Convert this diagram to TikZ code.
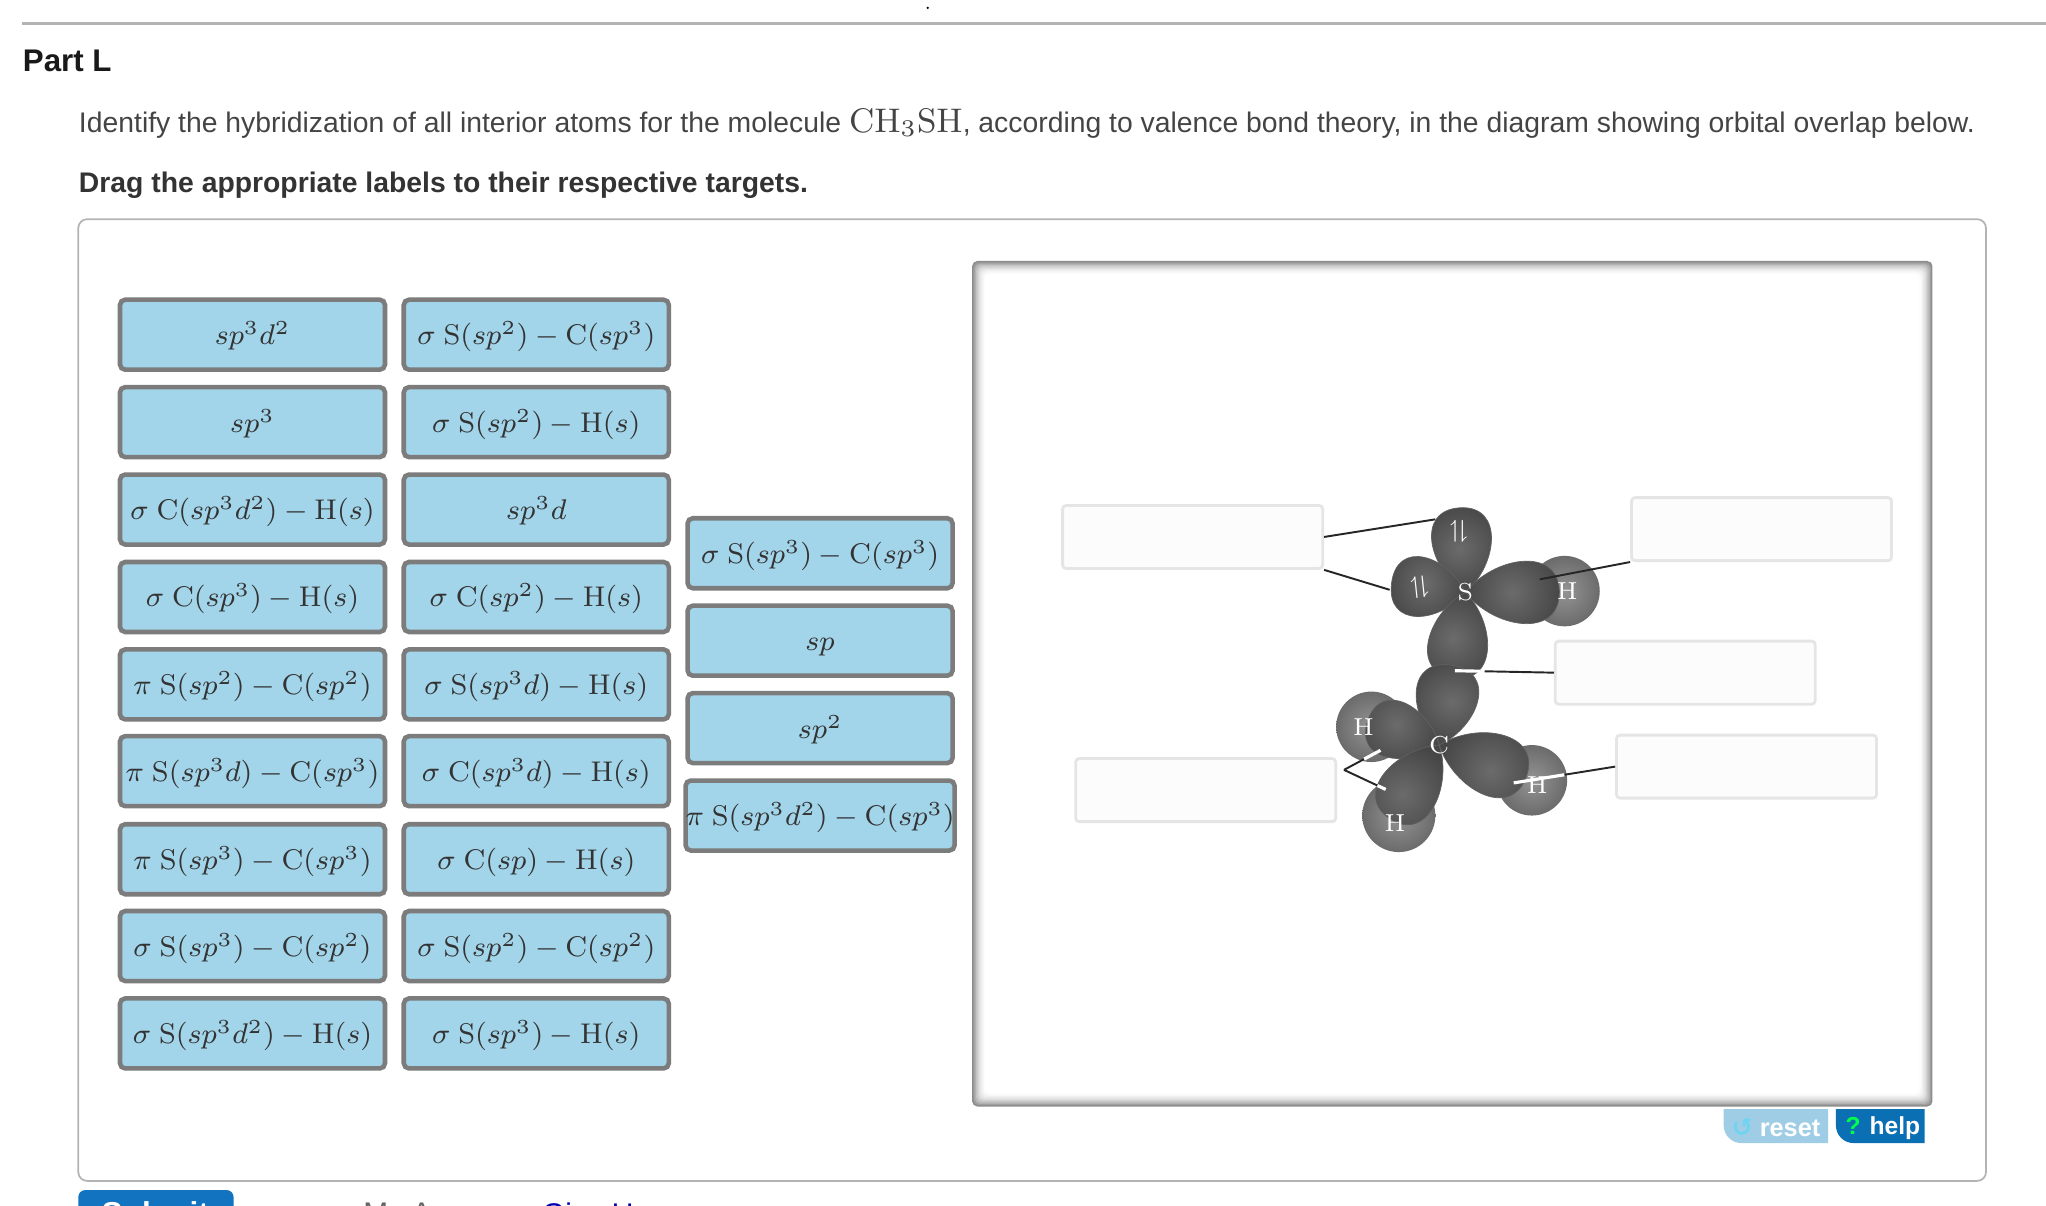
\documentclass[tikz,border=0pt]{standalone}
\usepackage{fix-cm}
\usepackage{amssymb}
\usepackage[no-math]{fontspec}
\setmainfont{Liberation Sans}
\newfontfamily\symfont{DejaVu Sans}
\newfontfamily\atomfont{Latin Modern Roman}
\usetikzlibrary{calc}
\definecolor{labelblue}{HTML}{A3D5EA}
\definecolor{labeledge}{HTML}{7C7C7C}
\definecolor{framegray}{HTML}{B4B4B4}
\definecolor{resetblue}{HTML}{A0CDE6}
\definecolor{helpblue}{HTML}{0A6FB3}
\definecolor{submitblue}{HTML}{1273C0}
\definecolor{bodygray}{HTML}{444444}
\tikzset{
	labelbox/.style = {draw=labeledge, line width=1.3pt, fill=labelblue, rounded corners=1.5pt, minimum width=2.65cm, minimum height=0.7cm, inner sep=0pt, text=black!80, text height=7.5pt, text depth=1.8pt, font=\fontsize{8.1}{10}\selectfont},
	targetbox/.style = {draw=black!10, line width=0.8pt, fill=black!1, rounded corners=1pt, minimum width=2.6cm, minimum height=0.63cm, inner sep=0pt},
	orbital/.style = {inner color=black!58, outer color=black!72, draw=black!62, line width=0.2pt},
	hball/.style = {inner color=black!42, outer color=black!58},
	atomname/.style = {text=white, font=\atomfont\scriptsize, inner sep=0pt},
	leader/.style = {line width=0.55pt, black!85},
	leaderglow/.style = {line width=0.9pt, white}
}
% one lobe: start point, angle, length, half width
\newcommand{\lobe}[4]{
	\shade[orbital, shift={#1}, rotate=#2] (0,0) .. controls (0.3*#3,1.15*#4) and (#3,1.5*#4) .. (#3,0) .. controls (#3,-1.5*#4) and (0.3*#3,-1.15*#4) .. (0,0);
}
\begin{document}
\begin{tikzpicture}[x=0.01305cm, y=-0.01305cm]
	\useasboundingbox (0,0) rectangle (1568,924);
	\clip (0,0) rectangle (1568,924);

	% header
	\draw[framegray, line width=0.8pt] (17,18) -- (1568,18);
	\fill[black] (711,6) circle (1);
	\node[anchor=west, inner sep=0pt, font=\bfseries\fontsize{8.9}{11}\selectfont, text=black!90] (part) at (17,47) {Part L};
	\node[anchor=west, inner sep=0pt, font=\fontsize{8.06}{10}\selectfont, text=bodygray] (task) at (60,95) {Identify the hybridization of all interior atoms for the molecule {\fontsize{9.7}{11}\selectfont$\mathrm{CH_3SH}$}, according to valence bond theory, in the diagram showing orbital overlap below.};
	\node[anchor=west, inner sep=0pt, font=\bfseries\fontsize{8.06}{10}\selectfont, text=black!80] (drag) at (60,142) {Drag the appropriate labels to their respective targets.};

	% outer frame and picture panel
	\draw[framegray, line width=0.5pt, rounded corners=2.5pt, fill=white] (60,168) rectangle (1522,905);
	\foreach \i/\c in {0/45,1/38,2/30,3/24,4/18,5/13,6/9,7/6,8/3,9/1,10/0}
		\fill[black!\c, rounded corners=1.5pt] (745+\i,200+\i) rectangle (1481-\i,848-\i);

	% labels
	\foreach \name/\y/\txt in {
		aa/256.5/$sp^3d^2$,
		ab/323.5/$sp^3$,
		ac/390.5/$\sigma\ \mathrm{C}(sp^3d^2)-\mathrm{H}(s)$,
		ad/457.5/$\sigma\ \mathrm{C}(sp^3)-\mathrm{H}(s)$,
		ae/524.5/$\pi\ \mathrm{S}(sp^2)-\mathrm{C}(sp^2)$,
		af/591/$\pi\ \mathrm{S}(sp^3d)-\mathrm{C}(sp^3)$,
		ag/658.5/$\pi\ \mathrm{S}(sp^3)-\mathrm{C}(sp^3)$,
		ah/725/$\sigma\ \mathrm{S}(sp^3)-\mathrm{C}(sp^2)$,
		ai/792/$\sigma\ \mathrm{S}(sp^3d^2)-\mathrm{H}(s)$}
		\node[labelbox] (\name) at (193.5,\y) {\txt};
	\foreach \name/\y/\txt in {
		ba/256.5/$\sigma\ \mathrm{S}(sp^2)-\mathrm{C}(sp^3)$,
		bb/323.5/$\sigma\ \mathrm{S}(sp^2)-\mathrm{H}(s)$,
		bc/390.5/$sp^3d$,
		bd/457.5/$\sigma\ \mathrm{C}(sp^2)-\mathrm{H}(s)$,
		be/524.5/$\sigma\ \mathrm{S}(sp^3d)-\mathrm{H}(s)$,
		bf/591/$\sigma\ \mathrm{C}(sp^3d)-\mathrm{H}(s)$,
		bg/658.5/$\sigma\ \mathrm{C}(sp)-\mathrm{H}(s)$,
		bh/725/$\sigma\ \mathrm{S}(sp^2)-\mathrm{C}(sp^2)$,
		bi/792/$\sigma\ \mathrm{S}(sp^3)-\mathrm{H}(s)$}
		\node[labelbox] (\name) at (411,\y) {\txt};
	\foreach \name/\y/\txt in {
		ca/424/$\sigma\ \mathrm{S}(sp^3)-\mathrm{C}(sp^3)$,
		cb/491/$sp$,
		cc/558/$sp^2$,
		cd/625/$\pi\ \mathrm{S}(sp^3d^2)-\mathrm{C}(sp^3)$}
		\node[labelbox] (\name) at (628.5,\y) {\txt};

	% molecule
	\coordinate (S) at (1123,454);
	\coordinate (C) at (1103,571);
	\shade[hball] (1199,453) circle (27);
	\shade[hball] (1051,557) circle (27);
	\shade[hball] (1072,625) circle (28);
	\shade[hball] (1174,598) circle (27);
	\lobe{(S)}{94}{65}{23}
	\lobe{(S)}{173}{57}{23}
	\lobe{(S)}{0}{72}{24}
	\lobe{(S)}{-98}{66}{23}
	\lobe{(C)}{81}{62}{24}
	\lobe{(C)}{161}{58}{22}
	\lobe{(C)}{-124}{68}{23}
	\lobe{(C)}{-20}{71}{24}
	\node[atomname] (satom) at (S) {S};
	\node[atomname] (catom) at (C) {C};
	\node[atomname] (ha) at (1201,453) {H};
	\node[atomname] (hb) at (1045,557) {H};
	\node[atomname] (hc) at (1069,631) {H};
	\node[atomname] (hd) at (1178,602) {H};
	\node[atomname] (pairt) at (1118,407) {$\upharpoonleft\!\downharpoonright$};
	\node[atomname, rotate=6] (pairl) at (1088,450) {$\upharpoonleft\!\downharpoonright$};

	% targets
	\node[targetbox] (ta) at (914,411.5) {};
	\node[targetbox] (tb) at (1350,405.5) {};
	\node[targetbox] (tc) at (1291.5,515.5) {};
	\node[targetbox] (td) at (1338.5,587.5) {};
	\node[targetbox] (te) at (924,605.5) {};

	% leader lines
	\coordinate (lonet) at (1100,398);
	\coordinate (lonel) at (1065,452);
	\coordinate (sh) at (1180,444);
	\coordinate (sc) at (1115,514);
	\coordinate (ch) at (1160,600);
	\coordinate (cha) at (1058,575);
	\coordinate (chb) at (1062,605);
	\coordinate (fork) at (1030,590);
	\draw[leader] (ta.east) -- (lonet);
	\draw[leader] (ta.south east) -- (lonel);
	\draw[leader] (tb.south west) -- (sh);
	\draw[leader] (tc.west) -- (sc);
	\draw[leader] (td.west) -- (ch);
	\draw[leader] (fork) -- (cha);
	\draw[leader] (fork) -- (chb);
	\draw[leaderglow] (sc) -- ($(sc)!0.3!(tc.west)$);
	\draw[leaderglow] (ch) -- ($(ch)!0.5!(td.west)$);
	\draw[leaderglow] (cha) -- ($(cha)!0.45!(fork)$);
	\draw[leaderglow] (chb) -- ($(chb)!0.2!(fork)$);

	% buttons
	\fill[resetblue] (1321,850) -- (1401,850) -- (1401,876) [rounded corners=5pt] -- (1321,876) [sharp corners] -- (1321,850) -- cycle;
	\fill[helpblue] (1407,850) -- (1475,850) -- (1475,876) [rounded corners=5pt] -- (1407,876) [sharp corners] -- (1407,850) -- cycle;
	\node[inner sep=0pt, text=white, font=\bfseries\fontsize{7.2}{9}\selectfont] (reset) at (1361,864.5) {{\symfont\color[HTML]{70D4F0}↺} reset};
	\node[inner sep=0pt, text=white, font=\bfseries\fontsize{7}{9}\selectfont] (help) at (1443,864.5) {{\color{green!70!cyan}?} help};

	% submit row, cut off by the page
	\fill[submitblue, rounded corners=2pt] (60,912) rectangle (179,940);
	\node[anchor=north, inner sep=0pt, text=white, font=\bfseries\fontsize{9}{11}\selectfont] (submit) at (119,920) {Submit};
	\node[anchor=north west, inner sep=0pt, text=black!60, font=\fontsize{8.5}{10}\selectfont] (myans) at (278,921) {My Answers};
	\node[anchor=north west, inner sep=0pt, text=blue!70!black, font=\fontsize{8.5}{10}\selectfont] (giveup) at (415,921) {Give Up};
\end{tikzpicture}
\end{document}
